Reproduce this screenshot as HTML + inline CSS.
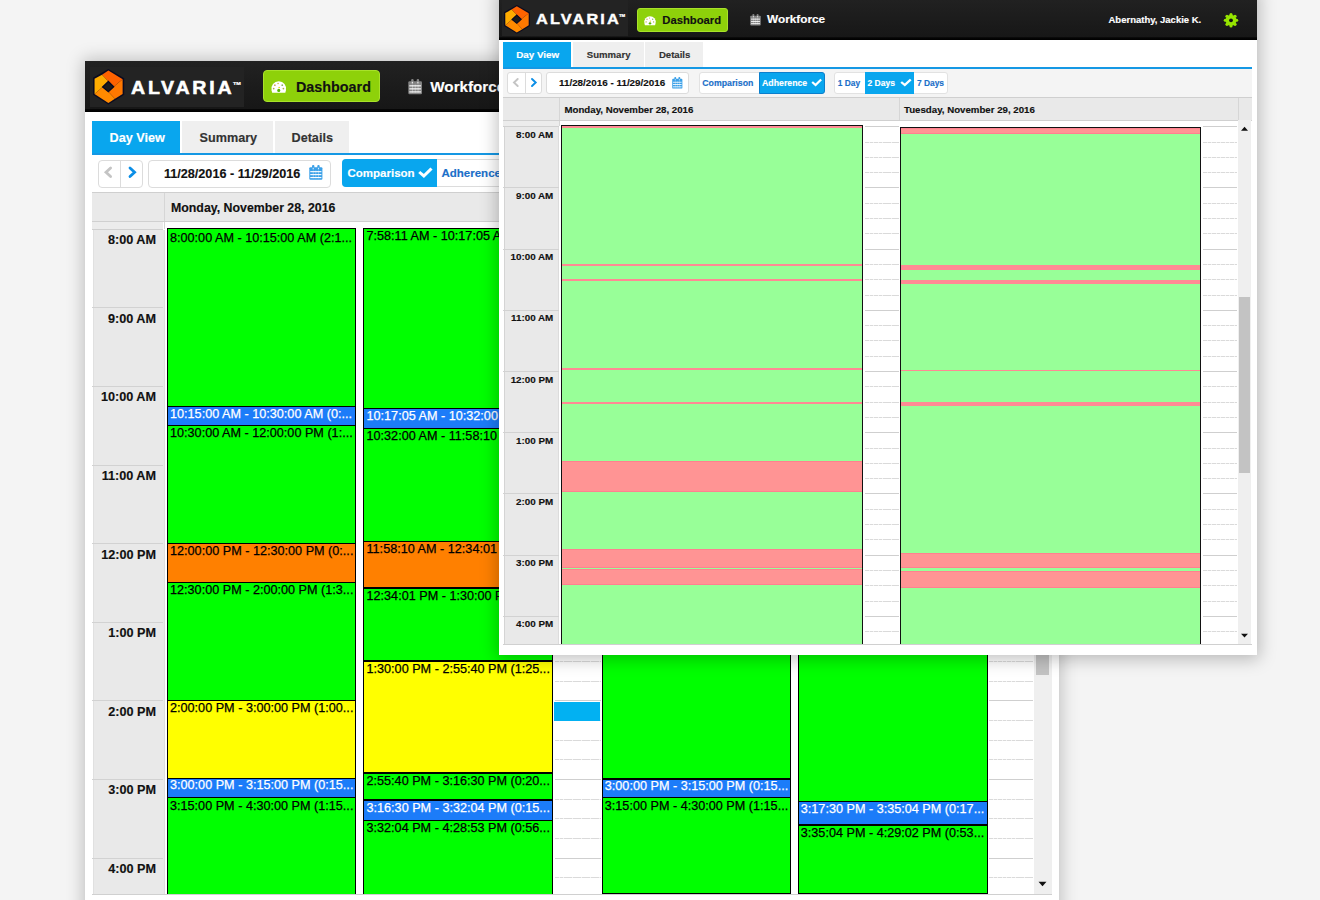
<!DOCTYPE html>
<html><head><meta charset="utf-8"><title>Alvaria Adherence</title>
<style>
html,body{margin:0;padding:0;}
body{width:1320px;height:900px;overflow:hidden;position:relative;background:#f4f4f4;font-family:"Liberation Sans", sans-serif;}
div{position:absolute;box-sizing:border-box;}
.t{white-space:nowrap;-webkit-text-stroke:0.15px currentColor;}
svg{position:absolute;overflow:visible;}
</style></head><body>

<div style="left:85px;top:61px;width:974px;height:900px;background:#fff;box-shadow:0 0 16px 2px rgba(0,0,0,0.22);"></div>
<div style="left:85px;top:61px;width:974px;height:51px;background:linear-gradient(#222 0%,#1b1b1b 55%,#171717 94%,#060606 95%,#000 100%);"></div>
<div style="left:90px;top:66.7px;width:154.4px;height:40px;background:#232323;"></div>
<svg style="left:92.5px;top:69px;" width="31.2px" height="35.6px" viewBox="60 60 710 785" preserveAspectRatio="none">
<polygon points="410,60 770,265 770,630 410,845 60,630 60,255" fill="#0b0b20"/>
<polygon points="265,185 410,95 735,285 530,450 410,335" fill="#ff6200"/>
<polygon points="95,275 265,185 410,335 280,455 95,610" fill="#ffac00"/>
<polygon points="95,610 280,455 410,560 560,718 410,810" fill="#ff8a00"/>
<polygon points="735,285 735,610 560,718 410,560 530,450" fill="#ff7800"/>
<polygon points="410,335 530,450 410,560 280,455" fill="#1c1c1c" stroke="#0b0b20" stroke-width="30"/>
</svg>
<div class="t" style="left:131px;top:79.6px;font-size:17.8px;line-height:17.8px;color:#fff;font-weight:bold;letter-spacing:2.5px;-webkit-text-stroke:0.5px #fff;transform:scaleX(1.1);transform-origin:0 0;">ALVARIA</div>
<div class="t" style="top:81.93px;font-size:4.2px;line-height:4.2px;color:#fff;font-weight:bold;-webkit-text-stroke:0.2px #fff;transform:scaleX(1.3);transform-origin:0 0;left:233.2px;">TM</div>
<div style="left:263.4px;top:70.3px;width:116.8px;height:31.7px;background:#8ed10a;border:1px solid #a8e22a;border-radius:4px;"></div>
<svg style="left:271px;top:80.7px;" width="15.5px" height="11.8px" viewBox="0 0 16 12" preserveAspectRatio="none">
<path d="M1.2,12 L0.6,9.5 A7.6,7.6 0 1 1 15.4,9.5 L14.8,12 Z" fill="#fff"/>
<circle cx="8" cy="9.6" r="1.6" fill="#55b800"/><circle cx="8.4" cy="6.6" r="0.8" fill="#e8d000"/>
<circle cx="4" cy="4.3" r="0.9" fill="#c8a060"/><circle cx="7.3" cy="2.6" r="0.8" fill="#c8b040"/><circle cx="11.6" cy="4.3" r="0.9" fill="#88b060"/>
<circle cx="2.8" cy="7.7" r="0.9" fill="#b0b040"/><circle cx="12.8" cy="7.7" r="0.9" fill="#b0b040"/>
</svg>
<div class="t" style="top:80.1px;font-size:14.35px;line-height:14.35px;color:#111;font-weight:bold;left:296px;">Dashboard</div>
<svg style="left:408px;top:78.7px;" width="14.3px" height="15.2px" viewBox="0 0 14 15" preserveAspectRatio="none">
<rect x="0.3" y="2.2" width="13.4" height="12.8" rx="1.2" fill="#858585"/>
<rect x="3.1" y="0" width="2.4" height="3.6" rx="1.1" fill="#858585"/><rect x="8.5" y="0" width="2.4" height="3.6" rx="1.1" fill="#858585"/>
<rect x="3.7" y="2.8" width="1.2" height="1.6" fill="#fff" opacity="0.8"/><rect x="9.1" y="2.8" width="1.2" height="1.6" fill="#fff" opacity="0.8"/>
<g fill="#fff"><rect x="1.3" y="6.2" width="11.4" height="1.1"/><rect x="1.3" y="9.2" width="11.4" height="1.1"/><rect x="1.3" y="12.2" width="11.4" height="1.1"/></g>
<g fill="#fff" opacity="0.45"><rect x="3.9" y="5.5" width="0.7" height="8"/><rect x="6.7" y="5.5" width="0.7" height="8"/><rect x="9.5" y="5.5" width="0.7" height="8"/></g>
</svg>
<div class="t" style="top:79.37px;font-size:15.2px;line-height:15.2px;color:#fff;font-weight:bold;left:430.3px;">Workforce</div>
<div style="left:92.1px;top:120.7px;width:87.5px;height:32.1px;background:#09a6ee;"></div>
<div style="left:182px;top:120.7px;width:91.1px;height:32.1px;background:#efefef;"></div>
<div style="left:275.2px;top:120.7px;width:74.2px;height:32.1px;background:#efefef;"></div>
<div class="t" style="top:131.58px;font-size:12.65px;line-height:12.65px;color:#fff;font-weight:bold;left:109.5px;">Day View</div>
<div class="t" style="top:131.58px;font-size:12.65px;line-height:12.65px;color:#333;font-weight:bold;left:199.5px;">Summary</div>
<div class="t" style="top:131.58px;font-size:12.65px;line-height:12.65px;color:#333;font-weight:bold;left:291.5px;">Details</div>
<div style="left:92.1px;top:152.8px;width:966.9px;height:2.2px;background:#1598e4;"></div>
<div style="left:97.5px;top:159.5px;width:45.3px;height:28.3px;background:#fff;border:1px solid #dcdcdc;border-radius:4px;"></div>
<div style="left:120.1px;top:160px;width:1px;height:27.3px;background:#dcdcdc;"></div>
<svg style="left:103.3px;top:165.2px;" width="10.6px" height="14.6px"><path d="M7.6,3 L3,7.3 L7.6,11.6" fill="none" stroke="#c4c4c4" stroke-width="2.8" stroke-linecap="round" stroke-linejoin="miter"/></svg>
<svg style="left:126.5px;top:165.2px;" width="10.6px" height="14.6px"><path d="M3,3 L7.6,7.3 L3,11.6" fill="none" stroke="#0b8ee6" stroke-width="2.8" stroke-linecap="round" stroke-linejoin="miter"/></svg>
<div style="left:147.7px;top:159.5px;width:183.6px;height:28.3px;background:#fff;border:1px solid #dcdcdc;border-radius:4px;"></div>
<div class="t" style="top:168.48px;font-size:12.65px;line-height:12.65px;color:#111;font-weight:bold;left:163.9px;">11/28/2016 - 11/29/2016</div>
<svg style="left:309.3px;top:164.8px;" width="13.7px" height="14.8px" viewBox="0 0 14 15" preserveAspectRatio="none">
<rect x="0.3" y="2.2" width="13.4" height="12.8" rx="1.2" fill="#3aa0e8"/>
<rect x="3.1" y="0" width="2.4" height="3.6" rx="1.1" fill="#3aa0e8"/><rect x="8.5" y="0" width="2.4" height="3.6" rx="1.1" fill="#3aa0e8"/>
<rect x="3.7" y="2.8" width="1.2" height="1.6" fill="#fff" opacity="0.8"/><rect x="9.1" y="2.8" width="1.2" height="1.6" fill="#fff" opacity="0.8"/>
<g fill="#fff"><rect x="1.3" y="6.2" width="11.4" height="1.1"/><rect x="1.3" y="9.2" width="11.4" height="1.1"/><rect x="1.3" y="12.2" width="11.4" height="1.1"/></g>
<g fill="#fff" opacity="0.45"><rect x="3.9" y="5.5" width="0.7" height="8"/><rect x="6.7" y="5.5" width="0.7" height="8"/><rect x="9.5" y="5.5" width="0.7" height="8"/></g>
</svg>
<div style="left:342px;top:159.3px;width:258px;height:28.2px;background:#fff;border:1px solid #dcdcdc;border-radius:4px;"></div>
<div style="left:342px;top:159.3px;width:95px;height:28.2px;background:#09a6ee;border-radius:4px 0 0 4px;"></div>
<div class="t" style="top:168.46px;font-size:11.5px;line-height:11.5px;color:#fff;font-weight:bold;left:347.5px;">Comparison</div>
<svg style="left:419.3px;top:168.3px;" width="12.7px" height="9.9px" viewBox="0 0 12 10" preserveAspectRatio="none">
<path d="M1.3,5.0 L4.6,8.0 L10.8,1.6" fill="none" stroke="#fff" stroke-width="2.9" stroke-linecap="square"/>
</svg>
<div class="t" style="top:168.46px;font-size:11.5px;line-height:11.5px;color:#1b6fc9;font-weight:bold;left:441.5px;">Adherence</div>
<div style="left:92.4px;top:192.4px;width:959.6px;height:1px;background:#cfcfcf;"></div>
<div style="left:92.4px;top:193.4px;width:959.6px;height:27.6px;background:#e9e9e9;"></div>
<div style="left:163.5px;top:193.4px;width:1px;height:35.6px;background:#d6d6d6;"></div>
<div class="t" style="top:202.22px;font-size:12.35px;line-height:12.35px;color:#111;font-weight:bold;left:171px;">Monday, November 28, 2016</div>
<div style="left:92.4px;top:221px;width:959.6px;height:1px;background:#d0d0d0;"></div>
<div style="left:92.4px;top:222px;width:71.1px;height:6.5px;background:#ececec;"></div>
<div style="left:92.4px;top:228.5px;width:71.1px;height:1px;background:#d0d0d0;"></div>
<div style="left:93.2px;top:229.5px;width:71.6px;height:664.1px;background:#e9e9e9;border-right:1.4px solid #dedede;border-left:1px solid #e0e0e0;"></div>
<div class="t" style="top:234.18px;font-size:12.65px;line-height:12.65px;color:#111;font-weight:bold;right:1164px;">8:00 AM</div>
<div style="left:92.4px;top:307.3px;width:71.1px;height:1px;background:#d2d2d2;"></div>
<div class="t" style="top:312.78px;font-size:12.65px;line-height:12.65px;color:#111;font-weight:bold;right:1164px;">9:00 AM</div>
<div style="left:92.4px;top:385.9px;width:71.1px;height:1px;background:#d2d2d2;"></div>
<div class="t" style="top:391.38px;font-size:12.65px;line-height:12.65px;color:#111;font-weight:bold;right:1164px;">10:00 AM</div>
<div style="left:92.4px;top:464.5px;width:71.1px;height:1px;background:#d2d2d2;"></div>
<div class="t" style="top:469.98px;font-size:12.65px;line-height:12.65px;color:#111;font-weight:bold;right:1164px;">11:00 AM</div>
<div style="left:92.4px;top:543.1px;width:71.1px;height:1px;background:#d2d2d2;"></div>
<div class="t" style="top:548.58px;font-size:12.65px;line-height:12.65px;color:#111;font-weight:bold;right:1164px;">12:00 PM</div>
<div style="left:92.4px;top:621.7px;width:71.1px;height:1px;background:#d2d2d2;"></div>
<div class="t" style="top:627.18px;font-size:12.65px;line-height:12.65px;color:#111;font-weight:bold;right:1164px;">1:00 PM</div>
<div style="left:92.4px;top:700.3px;width:71.1px;height:1px;background:#d2d2d2;"></div>
<div class="t" style="top:705.78px;font-size:12.65px;line-height:12.65px;color:#111;font-weight:bold;right:1164px;">2:00 PM</div>
<div style="left:92.4px;top:778.9px;width:71.1px;height:1px;background:#d2d2d2;"></div>
<div class="t" style="top:784.38px;font-size:12.65px;line-height:12.65px;color:#111;font-weight:bold;right:1164px;">3:00 PM</div>
<div style="left:92.4px;top:857.5px;width:71.1px;height:1px;background:#d2d2d2;"></div>
<div class="t" style="top:862.98px;font-size:12.65px;line-height:12.65px;color:#111;font-weight:bold;right:1164px;">4:00 PM</div>
<div style="left:553px;top:229.5px;width:48.5px;height:664.1px;background:#fff;"></div>
<div style="left:554.5px;top:248.35px;width:46px;height:1.1px;background-image:repeating-linear-gradient(90deg,#dadada 0 3.5px,#f2f2f2 3.5px 4.5px);"></div>
<div style="left:554.5px;top:268px;width:46px;height:1.1px;background-image:repeating-linear-gradient(90deg,#dadada 0 3.5px,#f2f2f2 3.5px 4.5px);"></div>
<div style="left:554.5px;top:287.65px;width:46px;height:1.1px;background-image:repeating-linear-gradient(90deg,#dadada 0 3.5px,#f2f2f2 3.5px 4.5px);"></div>
<div style="left:554.5px;top:307.3px;width:46px;height:1.1px;background:#cfcfcf;"></div>
<div style="left:554.5px;top:326.95px;width:46px;height:1.1px;background-image:repeating-linear-gradient(90deg,#dadada 0 3.5px,#f2f2f2 3.5px 4.5px);"></div>
<div style="left:554.5px;top:346.6px;width:46px;height:1.1px;background-image:repeating-linear-gradient(90deg,#dadada 0 3.5px,#f2f2f2 3.5px 4.5px);"></div>
<div style="left:554.5px;top:366.25px;width:46px;height:1.1px;background-image:repeating-linear-gradient(90deg,#dadada 0 3.5px,#f2f2f2 3.5px 4.5px);"></div>
<div style="left:554.5px;top:385.9px;width:46px;height:1.1px;background:#cfcfcf;"></div>
<div style="left:554.5px;top:405.55px;width:46px;height:1.1px;background-image:repeating-linear-gradient(90deg,#dadada 0 3.5px,#f2f2f2 3.5px 4.5px);"></div>
<div style="left:554.5px;top:425.2px;width:46px;height:1.1px;background-image:repeating-linear-gradient(90deg,#dadada 0 3.5px,#f2f2f2 3.5px 4.5px);"></div>
<div style="left:554.5px;top:444.85px;width:46px;height:1.1px;background-image:repeating-linear-gradient(90deg,#dadada 0 3.5px,#f2f2f2 3.5px 4.5px);"></div>
<div style="left:554.5px;top:464.5px;width:46px;height:1.1px;background:#cfcfcf;"></div>
<div style="left:554.5px;top:484.15px;width:46px;height:1.1px;background-image:repeating-linear-gradient(90deg,#dadada 0 3.5px,#f2f2f2 3.5px 4.5px);"></div>
<div style="left:554.5px;top:503.8px;width:46px;height:1.1px;background-image:repeating-linear-gradient(90deg,#dadada 0 3.5px,#f2f2f2 3.5px 4.5px);"></div>
<div style="left:554.5px;top:523.45px;width:46px;height:1.1px;background-image:repeating-linear-gradient(90deg,#dadada 0 3.5px,#f2f2f2 3.5px 4.5px);"></div>
<div style="left:554.5px;top:543.1px;width:46px;height:1.1px;background:#cfcfcf;"></div>
<div style="left:554.5px;top:562.75px;width:46px;height:1.1px;background-image:repeating-linear-gradient(90deg,#dadada 0 3.5px,#f2f2f2 3.5px 4.5px);"></div>
<div style="left:554.5px;top:582.4px;width:46px;height:1.1px;background-image:repeating-linear-gradient(90deg,#dadada 0 3.5px,#f2f2f2 3.5px 4.5px);"></div>
<div style="left:554.5px;top:602.05px;width:46px;height:1.1px;background-image:repeating-linear-gradient(90deg,#dadada 0 3.5px,#f2f2f2 3.5px 4.5px);"></div>
<div style="left:554.5px;top:621.7px;width:46px;height:1.1px;background:#cfcfcf;"></div>
<div style="left:554.5px;top:641.35px;width:46px;height:1.1px;background-image:repeating-linear-gradient(90deg,#dadada 0 3.5px,#f2f2f2 3.5px 4.5px);"></div>
<div style="left:554.5px;top:661px;width:46px;height:1.1px;background-image:repeating-linear-gradient(90deg,#dadada 0 3.5px,#f2f2f2 3.5px 4.5px);"></div>
<div style="left:554.5px;top:680.65px;width:46px;height:1.1px;background-image:repeating-linear-gradient(90deg,#dadada 0 3.5px,#f2f2f2 3.5px 4.5px);"></div>
<div style="left:554.5px;top:700.3px;width:46px;height:1.1px;background:#cfcfcf;"></div>
<div style="left:554.5px;top:719.95px;width:46px;height:1.1px;background-image:repeating-linear-gradient(90deg,#dadada 0 3.5px,#f2f2f2 3.5px 4.5px);"></div>
<div style="left:554.5px;top:739.6px;width:46px;height:1.1px;background-image:repeating-linear-gradient(90deg,#dadada 0 3.5px,#f2f2f2 3.5px 4.5px);"></div>
<div style="left:554.5px;top:759.25px;width:46px;height:1.1px;background-image:repeating-linear-gradient(90deg,#dadada 0 3.5px,#f2f2f2 3.5px 4.5px);"></div>
<div style="left:554.5px;top:778.9px;width:46px;height:1.1px;background:#cfcfcf;"></div>
<div style="left:554.5px;top:798.55px;width:46px;height:1.1px;background-image:repeating-linear-gradient(90deg,#dadada 0 3.5px,#f2f2f2 3.5px 4.5px);"></div>
<div style="left:554.5px;top:818.2px;width:46px;height:1.1px;background-image:repeating-linear-gradient(90deg,#dadada 0 3.5px,#f2f2f2 3.5px 4.5px);"></div>
<div style="left:554.5px;top:837.85px;width:46px;height:1.1px;background-image:repeating-linear-gradient(90deg,#dadada 0 3.5px,#f2f2f2 3.5px 4.5px);"></div>
<div style="left:554.5px;top:857.5px;width:46px;height:1.1px;background:#cfcfcf;"></div>
<div style="left:554.5px;top:877.15px;width:46px;height:1.1px;background-image:repeating-linear-gradient(90deg,#dadada 0 3.5px,#f2f2f2 3.5px 4.5px);"></div>
<div style="left:987.5px;top:229.5px;width:46.5px;height:664.1px;background:#fff;"></div>
<div style="left:989px;top:248.35px;width:44px;height:1.1px;background-image:repeating-linear-gradient(90deg,#dadada 0 3.5px,#f2f2f2 3.5px 4.5px);"></div>
<div style="left:989px;top:268px;width:44px;height:1.1px;background-image:repeating-linear-gradient(90deg,#dadada 0 3.5px,#f2f2f2 3.5px 4.5px);"></div>
<div style="left:989px;top:287.65px;width:44px;height:1.1px;background-image:repeating-linear-gradient(90deg,#dadada 0 3.5px,#f2f2f2 3.5px 4.5px);"></div>
<div style="left:989px;top:307.3px;width:44px;height:1.1px;background:#cfcfcf;"></div>
<div style="left:989px;top:326.95px;width:44px;height:1.1px;background-image:repeating-linear-gradient(90deg,#dadada 0 3.5px,#f2f2f2 3.5px 4.5px);"></div>
<div style="left:989px;top:346.6px;width:44px;height:1.1px;background-image:repeating-linear-gradient(90deg,#dadada 0 3.5px,#f2f2f2 3.5px 4.5px);"></div>
<div style="left:989px;top:366.25px;width:44px;height:1.1px;background-image:repeating-linear-gradient(90deg,#dadada 0 3.5px,#f2f2f2 3.5px 4.5px);"></div>
<div style="left:989px;top:385.9px;width:44px;height:1.1px;background:#cfcfcf;"></div>
<div style="left:989px;top:405.55px;width:44px;height:1.1px;background-image:repeating-linear-gradient(90deg,#dadada 0 3.5px,#f2f2f2 3.5px 4.5px);"></div>
<div style="left:989px;top:425.2px;width:44px;height:1.1px;background-image:repeating-linear-gradient(90deg,#dadada 0 3.5px,#f2f2f2 3.5px 4.5px);"></div>
<div style="left:989px;top:444.85px;width:44px;height:1.1px;background-image:repeating-linear-gradient(90deg,#dadada 0 3.5px,#f2f2f2 3.5px 4.5px);"></div>
<div style="left:989px;top:464.5px;width:44px;height:1.1px;background:#cfcfcf;"></div>
<div style="left:989px;top:484.15px;width:44px;height:1.1px;background-image:repeating-linear-gradient(90deg,#dadada 0 3.5px,#f2f2f2 3.5px 4.5px);"></div>
<div style="left:989px;top:503.8px;width:44px;height:1.1px;background-image:repeating-linear-gradient(90deg,#dadada 0 3.5px,#f2f2f2 3.5px 4.5px);"></div>
<div style="left:989px;top:523.45px;width:44px;height:1.1px;background-image:repeating-linear-gradient(90deg,#dadada 0 3.5px,#f2f2f2 3.5px 4.5px);"></div>
<div style="left:989px;top:543.1px;width:44px;height:1.1px;background:#cfcfcf;"></div>
<div style="left:989px;top:562.75px;width:44px;height:1.1px;background-image:repeating-linear-gradient(90deg,#dadada 0 3.5px,#f2f2f2 3.5px 4.5px);"></div>
<div style="left:989px;top:582.4px;width:44px;height:1.1px;background-image:repeating-linear-gradient(90deg,#dadada 0 3.5px,#f2f2f2 3.5px 4.5px);"></div>
<div style="left:989px;top:602.05px;width:44px;height:1.1px;background-image:repeating-linear-gradient(90deg,#dadada 0 3.5px,#f2f2f2 3.5px 4.5px);"></div>
<div style="left:989px;top:621.7px;width:44px;height:1.1px;background:#cfcfcf;"></div>
<div style="left:989px;top:641.35px;width:44px;height:1.1px;background-image:repeating-linear-gradient(90deg,#dadada 0 3.5px,#f2f2f2 3.5px 4.5px);"></div>
<div style="left:989px;top:661px;width:44px;height:1.1px;background-image:repeating-linear-gradient(90deg,#dadada 0 3.5px,#f2f2f2 3.5px 4.5px);"></div>
<div style="left:989px;top:680.65px;width:44px;height:1.1px;background-image:repeating-linear-gradient(90deg,#dadada 0 3.5px,#f2f2f2 3.5px 4.5px);"></div>
<div style="left:989px;top:700.3px;width:44px;height:1.1px;background:#cfcfcf;"></div>
<div style="left:989px;top:719.95px;width:44px;height:1.1px;background-image:repeating-linear-gradient(90deg,#dadada 0 3.5px,#f2f2f2 3.5px 4.5px);"></div>
<div style="left:989px;top:739.6px;width:44px;height:1.1px;background-image:repeating-linear-gradient(90deg,#dadada 0 3.5px,#f2f2f2 3.5px 4.5px);"></div>
<div style="left:989px;top:759.25px;width:44px;height:1.1px;background-image:repeating-linear-gradient(90deg,#dadada 0 3.5px,#f2f2f2 3.5px 4.5px);"></div>
<div style="left:989px;top:778.9px;width:44px;height:1.1px;background:#cfcfcf;"></div>
<div style="left:989px;top:798.55px;width:44px;height:1.1px;background-image:repeating-linear-gradient(90deg,#dadada 0 3.5px,#f2f2f2 3.5px 4.5px);"></div>
<div style="left:989px;top:818.2px;width:44px;height:1.1px;background-image:repeating-linear-gradient(90deg,#dadada 0 3.5px,#f2f2f2 3.5px 4.5px);"></div>
<div style="left:989px;top:837.85px;width:44px;height:1.1px;background-image:repeating-linear-gradient(90deg,#dadada 0 3.5px,#f2f2f2 3.5px 4.5px);"></div>
<div style="left:989px;top:857.5px;width:44px;height:1.1px;background:#cfcfcf;"></div>
<div style="left:989px;top:877.15px;width:44px;height:1.1px;background-image:repeating-linear-gradient(90deg,#dadada 0 3.5px,#f2f2f2 3.5px 4.5px);"></div>
<div style="left:554px;top:701.6px;width:45.6px;height:19.8px;background:#02b1f2;"></div>
<div style="left:356.5px;top:222px;width:6.7px;height:671.6px;background:#fff;"></div>
<div style="left:791px;top:222px;width:6.5px;height:671.6px;background:#fff;"></div>
<div style="left:166.7px;top:228px;width:189.8px;height:179px;background:#00ff00;border:1.3px solid #000;overflow:hidden;"></div>
<div class="t" style="top:231.68px;font-size:12.65px;line-height:12.65px;color:#000;font-weight:normal;-webkit-text-stroke:0.25px #000;left:170px;">8:00:00 AM - 10:15:00 AM (2:1...</div>
<div style="left:166.7px;top:406px;width:189.8px;height:19.5px;background:#1c7cf9;border:1.3px solid #000;overflow:hidden;"></div>
<div class="t" style="top:408.18px;font-size:12.65px;line-height:12.65px;color:#fff;font-weight:normal;-webkit-text-stroke:0.25px #fff;left:170px;">10:15:00 AM - 10:30:00 AM (0:...</div>
<div style="left:166.7px;top:424.5px;width:189.8px;height:119.2px;background:#00ff00;border:1.3px solid #000;overflow:hidden;"></div>
<div class="t" style="top:427.38px;font-size:12.65px;line-height:12.65px;color:#000;font-weight:normal;-webkit-text-stroke:0.25px #000;left:170px;">10:30:00 AM - 12:00:00 PM (1:...</div>
<div style="left:166.7px;top:543px;width:189.8px;height:39.8px;background:#ff8000;border:1.3px solid #000;overflow:hidden;"></div>
<div class="t" style="top:544.68px;font-size:12.65px;line-height:12.65px;color:#000;font-weight:normal;-webkit-text-stroke:0.25px #000;left:170px;">12:00:00 PM - 12:30:00 PM (0:...</div>
<div style="left:166.7px;top:582px;width:189.8px;height:119px;background:#00ff00;border:1.3px solid #000;overflow:hidden;"></div>
<div class="t" style="top:584.08px;font-size:12.65px;line-height:12.65px;color:#000;font-weight:normal;-webkit-text-stroke:0.25px #000;left:170px;">12:30:00 PM - 2:00:00 PM (1:3...</div>
<div style="left:166.7px;top:700.3px;width:189.8px;height:78.7px;background:#ffff00;border:1.3px solid #000;overflow:hidden;"></div>
<div class="t" style="top:701.78px;font-size:12.65px;line-height:12.65px;color:#000;font-weight:normal;-webkit-text-stroke:0.25px #000;left:170px;">2:00:00 PM - 3:00:00 PM (1:00...</div>
<div style="left:166.7px;top:778px;width:189.8px;height:19.8px;background:#1c7cf9;border:1.3px solid #000;overflow:hidden;"></div>
<div class="t" style="top:779.38px;font-size:12.65px;line-height:12.65px;color:#fff;font-weight:normal;-webkit-text-stroke:0.25px #fff;left:170px;">3:00:00 PM - 3:15:00 PM (0:15...</div>
<div style="left:166.7px;top:797px;width:189.8px;height:97.5px;background:#00ff00;border:1.3px solid #000;overflow:hidden;"></div>
<div class="t" style="top:799.78px;font-size:12.65px;line-height:12.65px;color:#000;font-weight:normal;-webkit-text-stroke:0.25px #000;left:170px;">3:15:00 PM - 4:30:00 PM (1:15...</div>
<div style="left:363.2px;top:227.5px;width:189.8px;height:181.2px;background:#00ff00;border:1.3px solid #000;overflow:hidden;"></div>
<div class="t" style="top:229.58px;font-size:12.65px;line-height:12.65px;color:#000;font-weight:normal;-webkit-text-stroke:0.25px #000;left:366.5px;">7:58:11 AM - 10:17:05 AM (2:18...</div>
<div style="left:363.2px;top:408px;width:189.8px;height:20.7px;background:#1c7cf9;border:1.3px solid #000;overflow:hidden;"></div>
<div class="t" style="top:410.38px;font-size:12.65px;line-height:12.65px;color:#fff;font-weight:normal;-webkit-text-stroke:0.25px #fff;left:366.5px;">10:17:05 AM - 10:32:00 AM (0:...</div>
<div style="left:363.2px;top:428px;width:189.8px;height:114px;background:#00ff00;border:1.3px solid #000;overflow:hidden;"></div>
<div class="t" style="top:429.58px;font-size:12.65px;line-height:12.65px;color:#000;font-weight:normal;-webkit-text-stroke:0.25px #000;left:366.5px;">10:32:00 AM - 11:58:10 AM (1:...</div>
<div style="left:363.2px;top:541.4px;width:189.8px;height:46.6px;background:#ff8000;border:1.3px solid #000;overflow:hidden;"></div>
<div class="t" style="top:542.58px;font-size:12.65px;line-height:12.65px;color:#000;font-weight:normal;-webkit-text-stroke:0.25px #000;left:366.5px;">11:58:10 AM - 12:34:01 PM (0:...</div>
<div style="left:363.2px;top:587.5px;width:189.8px;height:73.5px;background:#00ff00;border:1.3px solid #000;overflow:hidden;"></div>
<div class="t" style="top:589.68px;font-size:12.65px;line-height:12.65px;color:#000;font-weight:normal;-webkit-text-stroke:0.25px #000;left:366.5px;">12:34:01 PM - 1:30:00 PM (0:5...</div>
<div style="left:363.2px;top:660.6px;width:189.8px;height:112.4px;background:#ffff00;border:1.3px solid #000;overflow:hidden;"></div>
<div class="t" style="top:663.48px;font-size:12.65px;line-height:12.65px;color:#000;font-weight:normal;-webkit-text-stroke:0.25px #000;left:366.5px;">1:30:00 PM - 2:55:40 PM (1:25...</div>
<div style="left:363.2px;top:772.5px;width:189.8px;height:27.8px;background:#00ff00;border:1.3px solid #000;overflow:hidden;"></div>
<div class="t" style="top:774.68px;font-size:12.65px;line-height:12.65px;color:#000;font-weight:normal;-webkit-text-stroke:0.25px #000;left:366.5px;">2:55:40 PM - 3:16:30 PM (0:20...</div>
<div style="left:363.2px;top:799.6px;width:189.8px;height:21px;background:#1c7cf9;border:1.3px solid #000;overflow:hidden;"></div>
<div class="t" style="top:801.58px;font-size:12.65px;line-height:12.65px;color:#fff;font-weight:normal;-webkit-text-stroke:0.25px #fff;left:366.5px;">3:16:30 PM - 3:32:04 PM (0:15...</div>
<div style="left:363.2px;top:820px;width:189.8px;height:74.5px;background:#00ff00;border:1.3px solid #000;overflow:hidden;"></div>
<div class="t" style="top:822.38px;font-size:12.65px;line-height:12.65px;color:#000;font-weight:normal;-webkit-text-stroke:0.25px #000;left:366.5px;">3:32:04 PM - 4:28:53 PM (0:56...</div>
<div style="left:601.5px;top:600px;width:189.5px;height:179.3px;background:#00ff00;border:1.3px solid #000;overflow:hidden;"></div>
<div style="left:601.5px;top:778.6px;width:189.5px;height:19.4px;background:#1c7cf9;border:1.3px solid #000;overflow:hidden;"></div>
<div class="t" style="top:779.78px;font-size:12.65px;line-height:12.65px;color:#fff;font-weight:normal;-webkit-text-stroke:0.25px #fff;left:604.8px;">3:00:00 PM - 3:15:00 PM (0:15...</div>
<div style="left:601.5px;top:797.3px;width:189.5px;height:97.2px;background:#00ff00;border:1.3px solid #000;overflow:hidden;"></div>
<div class="t" style="top:799.78px;font-size:12.65px;line-height:12.65px;color:#000;font-weight:normal;-webkit-text-stroke:0.25px #000;left:604.8px;">3:15:00 PM - 4:30:00 PM (1:15...</div>
<div style="left:797.5px;top:600px;width:190px;height:202px;background:#00ff00;border:1.3px solid #000;overflow:hidden;"></div>
<div style="left:797.5px;top:801.3px;width:190px;height:24px;background:#1c7cf9;border:1.3px solid #000;overflow:hidden;"></div>
<div class="t" style="top:803.28px;font-size:12.65px;line-height:12.65px;color:#fff;font-weight:normal;-webkit-text-stroke:0.25px #fff;left:800.8px;">3:17:30 PM - 3:35:04 PM (0:17...</div>
<div style="left:797.5px;top:824.6px;width:190px;height:69.9px;background:#00ff00;border:1.3px solid #000;overflow:hidden;"></div>
<div class="t" style="top:826.58px;font-size:12.65px;line-height:12.65px;color:#000;font-weight:normal;-webkit-text-stroke:0.25px #000;left:800.8px;">3:35:04 PM - 4:29:02 PM (0:53...</div>
<div style="left:92.4px;top:893.6px;width:959.6px;height:1px;background:#d0d0d0;"></div>
<div style="left:1034px;top:193.4px;width:17.7px;height:700.2px;background:#efefef;"></div>
<div style="left:1035.8px;top:560px;width:13.2px;height:114.7px;background:#c3c3c3;"></div>
<svg style="left:0;top:0;" width="1320" height="900"><path d="M1038.5,881.8 L1042.5,886.2 L1046.5,881.8 Z" fill="#111"/></svg>
<div style="left:499px;top:-10px;width:758px;height:665px;background:#fff;box-shadow:0 2px 16px 2px rgba(0,0,0,0.25);"></div>
<div style="left:499px;top:0px;width:758px;height:40px;background:linear-gradient(#212121 0%,#1b1b1b 55%,#171717 93%,#060606 94%,#000 100%);"></div>
<div style="left:501.6px;top:0px;width:126.2px;height:36px;background:#232323;"></div>
<svg style="left:504.2px;top:5.2px;" width="26px" height="28.8px" viewBox="60 60 710 785" preserveAspectRatio="none">
<polygon points="410,60 770,265 770,630 410,845 60,630 60,255" fill="#0b0b20"/>
<polygon points="265,185 410,95 735,285 530,450 410,335" fill="#ff6200"/>
<polygon points="95,275 265,185 410,335 280,455 95,610" fill="#ffac00"/>
<polygon points="95,610 280,455 410,560 560,718 410,810" fill="#ff8a00"/>
<polygon points="735,285 735,610 560,718 410,560 530,450" fill="#ff7800"/>
<polygon points="410,335 530,450 410,560 280,455" fill="#1c1c1c" stroke="#0b0b20" stroke-width="30"/>
</svg>
<div class="t" style="left:535.6px;top:11.9px;font-size:14.8px;line-height:14.8px;color:#fff;font-weight:bold;letter-spacing:1.95px;-webkit-text-stroke:0.4px #fff;transform:scaleX(1.1);transform-origin:0 0;">ALVARIA</div>
<div class="t" style="top:14.67px;font-size:3.3px;line-height:3.3px;color:#fff;font-weight:bold;-webkit-text-stroke:0.2px #fff;transform:scaleX(1.3);transform-origin:0 0;left:618.9px;">TM</div>
<div style="left:637.3px;top:7.6px;width:90.7px;height:24.3px;background:#8ed10a;border:1px solid #a8e22a;border-radius:3px;"></div>
<svg style="left:643.5px;top:15.5px;" width="12px" height="9.2px" viewBox="0 0 16 12" preserveAspectRatio="none">
<path d="M1.2,12 L0.6,9.5 A7.6,7.6 0 1 1 15.4,9.5 L14.8,12 Z" fill="#fff"/>
<circle cx="8" cy="9.6" r="1.6" fill="#55b800"/><circle cx="8.4" cy="6.6" r="0.8" fill="#e8d000"/>
<circle cx="4" cy="4.3" r="0.9" fill="#c8a060"/><circle cx="7.3" cy="2.6" r="0.8" fill="#c8b040"/><circle cx="11.6" cy="4.3" r="0.9" fill="#88b060"/>
<circle cx="2.8" cy="7.7" r="0.9" fill="#b0b040"/><circle cx="12.8" cy="7.7" r="0.9" fill="#b0b040"/>
</svg>
<div class="t" style="top:15.1px;font-size:11.25px;line-height:11.25px;color:#111;font-weight:bold;left:662.3px;">Dashboard</div>
<svg style="left:749.8px;top:14.1px;" width="11px" height="11.4px" viewBox="0 0 14 15" preserveAspectRatio="none">
<rect x="0.3" y="2.2" width="13.4" height="12.8" rx="1.2" fill="#858585"/>
<rect x="3.1" y="0" width="2.4" height="3.6" rx="1.1" fill="#858585"/><rect x="8.5" y="0" width="2.4" height="3.6" rx="1.1" fill="#858585"/>
<rect x="3.7" y="2.8" width="1.2" height="1.6" fill="#fff" opacity="0.8"/><rect x="9.1" y="2.8" width="1.2" height="1.6" fill="#fff" opacity="0.8"/>
<g fill="#fff"><rect x="1.3" y="6.2" width="11.4" height="1.1"/><rect x="1.3" y="9.2" width="11.4" height="1.1"/><rect x="1.3" y="12.2" width="11.4" height="1.1"/></g>
<g fill="#fff" opacity="0.45"><rect x="3.9" y="5.5" width="0.7" height="8"/><rect x="6.7" y="5.5" width="0.7" height="8"/><rect x="9.5" y="5.5" width="0.7" height="8"/></g>
</svg>
<div class="t" style="top:13.81px;font-size:11.8px;line-height:11.8px;color:#fff;font-weight:bold;left:767px;">Workforce</div>
<div class="t" style="top:15.18px;font-size:9.5px;line-height:9.5px;color:#fff;font-weight:bold;left:1108.5px;">Abernathy, Jackie K.</div>
<svg style="left:0;top:0;" width="1320" height="60"><circle cx="1231" cy="20.3" r="5.5" fill="#96e400"/><circle cx="1236.70" cy="20.30" r="1.55" fill="#96e400"/><circle cx="1235.03" cy="24.33" r="1.55" fill="#96e400"/><circle cx="1231.00" cy="26.00" r="1.55" fill="#96e400"/><circle cx="1226.97" cy="24.33" r="1.55" fill="#96e400"/><circle cx="1225.30" cy="20.30" r="1.55" fill="#96e400"/><circle cx="1226.97" cy="16.27" r="1.55" fill="#96e400"/><circle cx="1231.00" cy="14.60" r="1.55" fill="#96e400"/><circle cx="1235.03" cy="16.27" r="1.55" fill="#96e400"/><circle cx="1231" cy="20.3" r="1.9" fill="#111"/></svg>
<div style="left:503px;top:42px;width:68.4px;height:25px;background:#09a6ee;"></div>
<div style="left:573px;top:42px;width:70.8px;height:25px;background:#efefef;"></div>
<div style="left:645.4px;top:42px;width:58px;height:25px;background:#efefef;"></div>
<div class="t" style="top:49.82px;font-size:9.85px;line-height:9.85px;color:#fff;font-weight:bold;left:516.2px;">Day View</div>
<div class="t" style="top:49.86px;font-size:9.6px;line-height:9.6px;color:#333;font-weight:bold;left:586.8px;">Summary</div>
<div class="t" style="top:49.86px;font-size:9.6px;line-height:9.6px;color:#333;font-weight:bold;left:658.9px;">Details</div>
<div style="left:503px;top:67px;width:749px;height:2px;background:#1598e4;"></div>
<div style="left:503px;top:69px;width:749px;height:28.5px;background:#f4f4f4;"></div>
<div style="left:507.3px;top:72.3px;width:35px;height:21.3px;background:#fff;border:1px solid #dcdcdc;border-radius:3px;"></div>
<div style="left:524.8px;top:72.8px;width:1px;height:20.3px;background:#dcdcdc;"></div>
<svg style="left:511.05px;top:76.1px;" width="9.7px" height="13px"><path d="M6.7,3 L3,6.5 L6.7,10.0" fill="none" stroke="#c4c4c4" stroke-width="1.9" stroke-linecap="round" stroke-linejoin="miter"/></svg>
<svg style="left:529.15px;top:76.1px;" width="9.7px" height="13px"><path d="M3,3 L6.7,6.5 L3,10.0" fill="none" stroke="#0b8ee6" stroke-width="1.9" stroke-linecap="round" stroke-linejoin="miter"/></svg>
<div style="left:545.5px;top:72.3px;width:143.9px;height:21.3px;background:#fff;border:1px solid #dcdcdc;border-radius:3px;"></div>
<div class="t" style="top:78.42px;font-size:9.85px;line-height:9.85px;color:#111;font-weight:bold;left:559px;">11/28/2016 - 11/29/2016</div>
<svg style="left:672.4px;top:76.6px;" width="10.6px" height="11.6px" viewBox="0 0 14 15" preserveAspectRatio="none">
<rect x="0.3" y="2.2" width="13.4" height="12.8" rx="1.2" fill="#3aa0e8"/>
<rect x="3.1" y="0" width="2.4" height="3.6" rx="1.1" fill="#3aa0e8"/><rect x="8.5" y="0" width="2.4" height="3.6" rx="1.1" fill="#3aa0e8"/>
<rect x="3.7" y="2.8" width="1.2" height="1.6" fill="#fff" opacity="0.8"/><rect x="9.1" y="2.8" width="1.2" height="1.6" fill="#fff" opacity="0.8"/>
<g fill="#fff"><rect x="1.3" y="6.2" width="11.4" height="1.1"/><rect x="1.3" y="9.2" width="11.4" height="1.1"/><rect x="1.3" y="12.2" width="11.4" height="1.1"/></g>
<g fill="#fff" opacity="0.45"><rect x="3.9" y="5.5" width="0.7" height="8"/><rect x="6.7" y="5.5" width="0.7" height="8"/><rect x="9.5" y="5.5" width="0.7" height="8"/></g>
</svg>
<div style="left:698.6px;top:72.1px;width:126.4px;height:21.5px;background:#fff;border:1px solid #e2e2e2;border-radius:3px;"></div>
<div class="t" style="top:78.8px;font-size:8.75px;line-height:8.75px;color:#1b6fc9;font-weight:bold;left:702.3px;">Comparison</div>
<div style="left:758.5px;top:72.1px;width:66.5px;height:21.5px;background:#09a6ee;border:1px solid #0c7fcc;border-radius:0 3px 3px 0;"></div>
<div class="t" style="top:78.8px;font-size:8.75px;line-height:8.75px;color:#fff;font-weight:bold;left:762px;">Adherence</div>
<svg style="left:812.3px;top:79px;" width="9.3px" height="7.6px" viewBox="0 0 12 10" preserveAspectRatio="none">
<path d="M1.3,5.0 L4.6,8.0 L10.8,1.6" fill="none" stroke="#fff" stroke-width="2.9" stroke-linecap="square"/>
</svg>
<div style="left:834.2px;top:72.1px;width:113.9px;height:21.5px;background:#fff;border:1px solid #e2e2e2;border-radius:3px;"></div>
<div class="t" style="top:78.86px;font-size:8.4px;line-height:8.4px;color:#1b6fc9;font-weight:bold;left:837.7px;">1 Day</div>
<div style="left:864.9px;top:72.1px;width:48.7px;height:21.5px;background:#09a6ee;"></div>
<div class="t" style="top:78.84px;font-size:8.5px;line-height:8.5px;color:#fff;font-weight:bold;left:867.5px;">2 Days</div>
<svg style="left:900.7px;top:79px;" width="9.9px" height="7.6px" viewBox="0 0 12 10" preserveAspectRatio="none">
<path d="M1.3,5.0 L4.6,8.0 L10.8,1.6" fill="none" stroke="#fff" stroke-width="2.9" stroke-linecap="square"/>
</svg>
<div class="t" style="top:78.86px;font-size:8.4px;line-height:8.4px;color:#1b6fc9;font-weight:bold;left:917px;">7 Days</div>
<div style="left:503.4px;top:97.2px;width:748.6px;height:1px;background:#cfcfcf;"></div>
<div style="left:503.4px;top:98.2px;width:748.6px;height:21.8px;background:#e9e9e9;"></div>
<div style="left:558.7px;top:98.2px;width:1px;height:28.3px;background:#d6d6d6;"></div>
<div style="left:898.6px;top:98.2px;width:1px;height:28.3px;background:#d6d6d6;"></div>
<div style="left:1238.4px;top:98.2px;width:1px;height:21.8px;background:#d6d6d6;"></div>
<div class="t" style="top:104.65px;font-size:9.68px;line-height:9.68px;color:#111;font-weight:bold;left:564.5px;">Monday, November 28, 2016</div>
<div class="t" style="top:104.65px;font-size:9.68px;line-height:9.68px;color:#111;font-weight:bold;left:904px;">Tuesday, November 29, 2016</div>
<div style="left:503.4px;top:120px;width:748.6px;height:1px;background:#d0d0d0;"></div>
<div style="left:503.4px;top:121px;width:55.3px;height:5px;background:#ececec;"></div>
<div style="left:503.4px;top:126px;width:55.3px;height:1px;background:#d0d0d0;"></div>
<div style="left:503.5px;top:127px;width:55.8px;height:517px;background:#e9e9e9;border-right:1px solid #dcdcdc;border-left:1.2px solid #d4d4d4;"></div>
<div class="t" style="top:129.72px;font-size:9.85px;line-height:9.85px;color:#111;font-weight:bold;right:766.7px;">8:00 AM</div>
<div style="left:503.4px;top:187.4px;width:55.3px;height:1px;background:#d2d2d2;"></div>
<div class="t" style="top:190.92px;font-size:9.85px;line-height:9.85px;color:#111;font-weight:bold;right:766.7px;">9:00 AM</div>
<div style="left:503.4px;top:248.6px;width:55.3px;height:1px;background:#d2d2d2;"></div>
<div class="t" style="top:252.12px;font-size:9.85px;line-height:9.85px;color:#111;font-weight:bold;right:766.7px;">10:00 AM</div>
<div style="left:503.4px;top:309.8px;width:55.3px;height:1px;background:#d2d2d2;"></div>
<div class="t" style="top:313.32px;font-size:9.85px;line-height:9.85px;color:#111;font-weight:bold;right:766.7px;">11:00 AM</div>
<div style="left:503.4px;top:371px;width:55.3px;height:1px;background:#d2d2d2;"></div>
<div class="t" style="top:374.52px;font-size:9.85px;line-height:9.85px;color:#111;font-weight:bold;right:766.7px;">12:00 PM</div>
<div style="left:503.4px;top:432.2px;width:55.3px;height:1px;background:#d2d2d2;"></div>
<div class="t" style="top:435.72px;font-size:9.85px;line-height:9.85px;color:#111;font-weight:bold;right:766.7px;">1:00 PM</div>
<div style="left:503.4px;top:493.4px;width:55.3px;height:1px;background:#d2d2d2;"></div>
<div class="t" style="top:496.92px;font-size:9.85px;line-height:9.85px;color:#111;font-weight:bold;right:766.7px;">2:00 PM</div>
<div style="left:503.4px;top:554.6px;width:55.3px;height:1px;background:#d2d2d2;"></div>
<div class="t" style="top:558.12px;font-size:9.85px;line-height:9.85px;color:#111;font-weight:bold;right:766.7px;">3:00 PM</div>
<div style="left:503.4px;top:615.8px;width:55.3px;height:1px;background:#d2d2d2;"></div>
<div class="t" style="top:619.32px;font-size:9.85px;line-height:9.85px;color:#111;font-weight:bold;right:766.7px;">4:00 PM</div>
<div style="left:863px;top:121px;width:37.3px;height:522.5px;background:#fff;"></div>
<div style="left:864.5px;top:126.2px;width:34.8px;height:1.1px;background:#cfcfcf;"></div>
<div style="left:864.5px;top:141.5px;width:34.8px;height:1.1px;background-image:repeating-linear-gradient(90deg,#dadada 0 3.5px,#f2f2f2 3.5px 4.5px);"></div>
<div style="left:864.5px;top:156.8px;width:34.8px;height:1.1px;background-image:repeating-linear-gradient(90deg,#dadada 0 3.5px,#f2f2f2 3.5px 4.5px);"></div>
<div style="left:864.5px;top:172.1px;width:34.8px;height:1.1px;background-image:repeating-linear-gradient(90deg,#dadada 0 3.5px,#f2f2f2 3.5px 4.5px);"></div>
<div style="left:864.5px;top:187.4px;width:34.8px;height:1.1px;background:#cfcfcf;"></div>
<div style="left:864.5px;top:202.7px;width:34.8px;height:1.1px;background-image:repeating-linear-gradient(90deg,#dadada 0 3.5px,#f2f2f2 3.5px 4.5px);"></div>
<div style="left:864.5px;top:218px;width:34.8px;height:1.1px;background-image:repeating-linear-gradient(90deg,#dadada 0 3.5px,#f2f2f2 3.5px 4.5px);"></div>
<div style="left:864.5px;top:233.3px;width:34.8px;height:1.1px;background-image:repeating-linear-gradient(90deg,#dadada 0 3.5px,#f2f2f2 3.5px 4.5px);"></div>
<div style="left:864.5px;top:248.6px;width:34.8px;height:1.1px;background:#cfcfcf;"></div>
<div style="left:864.5px;top:263.9px;width:34.8px;height:1.1px;background-image:repeating-linear-gradient(90deg,#dadada 0 3.5px,#f2f2f2 3.5px 4.5px);"></div>
<div style="left:864.5px;top:279.2px;width:34.8px;height:1.1px;background-image:repeating-linear-gradient(90deg,#dadada 0 3.5px,#f2f2f2 3.5px 4.5px);"></div>
<div style="left:864.5px;top:294.5px;width:34.8px;height:1.1px;background-image:repeating-linear-gradient(90deg,#dadada 0 3.5px,#f2f2f2 3.5px 4.5px);"></div>
<div style="left:864.5px;top:309.8px;width:34.8px;height:1.1px;background:#cfcfcf;"></div>
<div style="left:864.5px;top:325.1px;width:34.8px;height:1.1px;background-image:repeating-linear-gradient(90deg,#dadada 0 3.5px,#f2f2f2 3.5px 4.5px);"></div>
<div style="left:864.5px;top:340.4px;width:34.8px;height:1.1px;background-image:repeating-linear-gradient(90deg,#dadada 0 3.5px,#f2f2f2 3.5px 4.5px);"></div>
<div style="left:864.5px;top:355.7px;width:34.8px;height:1.1px;background-image:repeating-linear-gradient(90deg,#dadada 0 3.5px,#f2f2f2 3.5px 4.5px);"></div>
<div style="left:864.5px;top:371px;width:34.8px;height:1.1px;background:#cfcfcf;"></div>
<div style="left:864.5px;top:386.3px;width:34.8px;height:1.1px;background-image:repeating-linear-gradient(90deg,#dadada 0 3.5px,#f2f2f2 3.5px 4.5px);"></div>
<div style="left:864.5px;top:401.6px;width:34.8px;height:1.1px;background-image:repeating-linear-gradient(90deg,#dadada 0 3.5px,#f2f2f2 3.5px 4.5px);"></div>
<div style="left:864.5px;top:416.9px;width:34.8px;height:1.1px;background-image:repeating-linear-gradient(90deg,#dadada 0 3.5px,#f2f2f2 3.5px 4.5px);"></div>
<div style="left:864.5px;top:432.2px;width:34.8px;height:1.1px;background:#cfcfcf;"></div>
<div style="left:864.5px;top:447.5px;width:34.8px;height:1.1px;background-image:repeating-linear-gradient(90deg,#dadada 0 3.5px,#f2f2f2 3.5px 4.5px);"></div>
<div style="left:864.5px;top:462.8px;width:34.8px;height:1.1px;background-image:repeating-linear-gradient(90deg,#dadada 0 3.5px,#f2f2f2 3.5px 4.5px);"></div>
<div style="left:864.5px;top:478.1px;width:34.8px;height:1.1px;background-image:repeating-linear-gradient(90deg,#dadada 0 3.5px,#f2f2f2 3.5px 4.5px);"></div>
<div style="left:864.5px;top:493.4px;width:34.8px;height:1.1px;background:#cfcfcf;"></div>
<div style="left:864.5px;top:508.7px;width:34.8px;height:1.1px;background-image:repeating-linear-gradient(90deg,#dadada 0 3.5px,#f2f2f2 3.5px 4.5px);"></div>
<div style="left:864.5px;top:524px;width:34.8px;height:1.1px;background-image:repeating-linear-gradient(90deg,#dadada 0 3.5px,#f2f2f2 3.5px 4.5px);"></div>
<div style="left:864.5px;top:539.3px;width:34.8px;height:1.1px;background-image:repeating-linear-gradient(90deg,#dadada 0 3.5px,#f2f2f2 3.5px 4.5px);"></div>
<div style="left:864.5px;top:554.6px;width:34.8px;height:1.1px;background:#cfcfcf;"></div>
<div style="left:864.5px;top:569.9px;width:34.8px;height:1.1px;background-image:repeating-linear-gradient(90deg,#dadada 0 3.5px,#f2f2f2 3.5px 4.5px);"></div>
<div style="left:864.5px;top:585.2px;width:34.8px;height:1.1px;background-image:repeating-linear-gradient(90deg,#dadada 0 3.5px,#f2f2f2 3.5px 4.5px);"></div>
<div style="left:864.5px;top:600.5px;width:34.8px;height:1.1px;background-image:repeating-linear-gradient(90deg,#dadada 0 3.5px,#f2f2f2 3.5px 4.5px);"></div>
<div style="left:864.5px;top:615.8px;width:34.8px;height:1.1px;background:#cfcfcf;"></div>
<div style="left:864.5px;top:631.1px;width:34.8px;height:1.1px;background-image:repeating-linear-gradient(90deg,#dadada 0 3.5px,#f2f2f2 3.5px 4.5px);"></div>
<div style="left:1201.4px;top:121px;width:37px;height:522.5px;background:#fff;"></div>
<div style="left:1202.9px;top:126.2px;width:34.5px;height:1.1px;background:#cfcfcf;"></div>
<div style="left:1202.9px;top:141.5px;width:34.5px;height:1.1px;background-image:repeating-linear-gradient(90deg,#dadada 0 3.5px,#f2f2f2 3.5px 4.5px);"></div>
<div style="left:1202.9px;top:156.8px;width:34.5px;height:1.1px;background-image:repeating-linear-gradient(90deg,#dadada 0 3.5px,#f2f2f2 3.5px 4.5px);"></div>
<div style="left:1202.9px;top:172.1px;width:34.5px;height:1.1px;background-image:repeating-linear-gradient(90deg,#dadada 0 3.5px,#f2f2f2 3.5px 4.5px);"></div>
<div style="left:1202.9px;top:187.4px;width:34.5px;height:1.1px;background:#cfcfcf;"></div>
<div style="left:1202.9px;top:202.7px;width:34.5px;height:1.1px;background-image:repeating-linear-gradient(90deg,#dadada 0 3.5px,#f2f2f2 3.5px 4.5px);"></div>
<div style="left:1202.9px;top:218px;width:34.5px;height:1.1px;background-image:repeating-linear-gradient(90deg,#dadada 0 3.5px,#f2f2f2 3.5px 4.5px);"></div>
<div style="left:1202.9px;top:233.3px;width:34.5px;height:1.1px;background-image:repeating-linear-gradient(90deg,#dadada 0 3.5px,#f2f2f2 3.5px 4.5px);"></div>
<div style="left:1202.9px;top:248.6px;width:34.5px;height:1.1px;background:#cfcfcf;"></div>
<div style="left:1202.9px;top:263.9px;width:34.5px;height:1.1px;background-image:repeating-linear-gradient(90deg,#dadada 0 3.5px,#f2f2f2 3.5px 4.5px);"></div>
<div style="left:1202.9px;top:279.2px;width:34.5px;height:1.1px;background-image:repeating-linear-gradient(90deg,#dadada 0 3.5px,#f2f2f2 3.5px 4.5px);"></div>
<div style="left:1202.9px;top:294.5px;width:34.5px;height:1.1px;background-image:repeating-linear-gradient(90deg,#dadada 0 3.5px,#f2f2f2 3.5px 4.5px);"></div>
<div style="left:1202.9px;top:309.8px;width:34.5px;height:1.1px;background:#cfcfcf;"></div>
<div style="left:1202.9px;top:325.1px;width:34.5px;height:1.1px;background-image:repeating-linear-gradient(90deg,#dadada 0 3.5px,#f2f2f2 3.5px 4.5px);"></div>
<div style="left:1202.9px;top:340.4px;width:34.5px;height:1.1px;background-image:repeating-linear-gradient(90deg,#dadada 0 3.5px,#f2f2f2 3.5px 4.5px);"></div>
<div style="left:1202.9px;top:355.7px;width:34.5px;height:1.1px;background-image:repeating-linear-gradient(90deg,#dadada 0 3.5px,#f2f2f2 3.5px 4.5px);"></div>
<div style="left:1202.9px;top:371px;width:34.5px;height:1.1px;background:#cfcfcf;"></div>
<div style="left:1202.9px;top:386.3px;width:34.5px;height:1.1px;background-image:repeating-linear-gradient(90deg,#dadada 0 3.5px,#f2f2f2 3.5px 4.5px);"></div>
<div style="left:1202.9px;top:401.6px;width:34.5px;height:1.1px;background-image:repeating-linear-gradient(90deg,#dadada 0 3.5px,#f2f2f2 3.5px 4.5px);"></div>
<div style="left:1202.9px;top:416.9px;width:34.5px;height:1.1px;background-image:repeating-linear-gradient(90deg,#dadada 0 3.5px,#f2f2f2 3.5px 4.5px);"></div>
<div style="left:1202.9px;top:432.2px;width:34.5px;height:1.1px;background:#cfcfcf;"></div>
<div style="left:1202.9px;top:447.5px;width:34.5px;height:1.1px;background-image:repeating-linear-gradient(90deg,#dadada 0 3.5px,#f2f2f2 3.5px 4.5px);"></div>
<div style="left:1202.9px;top:462.8px;width:34.5px;height:1.1px;background-image:repeating-linear-gradient(90deg,#dadada 0 3.5px,#f2f2f2 3.5px 4.5px);"></div>
<div style="left:1202.9px;top:478.1px;width:34.5px;height:1.1px;background-image:repeating-linear-gradient(90deg,#dadada 0 3.5px,#f2f2f2 3.5px 4.5px);"></div>
<div style="left:1202.9px;top:493.4px;width:34.5px;height:1.1px;background:#cfcfcf;"></div>
<div style="left:1202.9px;top:508.7px;width:34.5px;height:1.1px;background-image:repeating-linear-gradient(90deg,#dadada 0 3.5px,#f2f2f2 3.5px 4.5px);"></div>
<div style="left:1202.9px;top:524px;width:34.5px;height:1.1px;background-image:repeating-linear-gradient(90deg,#dadada 0 3.5px,#f2f2f2 3.5px 4.5px);"></div>
<div style="left:1202.9px;top:539.3px;width:34.5px;height:1.1px;background-image:repeating-linear-gradient(90deg,#dadada 0 3.5px,#f2f2f2 3.5px 4.5px);"></div>
<div style="left:1202.9px;top:554.6px;width:34.5px;height:1.1px;background:#cfcfcf;"></div>
<div style="left:1202.9px;top:569.9px;width:34.5px;height:1.1px;background-image:repeating-linear-gradient(90deg,#dadada 0 3.5px,#f2f2f2 3.5px 4.5px);"></div>
<div style="left:1202.9px;top:585.2px;width:34.5px;height:1.1px;background-image:repeating-linear-gradient(90deg,#dadada 0 3.5px,#f2f2f2 3.5px 4.5px);"></div>
<div style="left:1202.9px;top:600.5px;width:34.5px;height:1.1px;background-image:repeating-linear-gradient(90deg,#dadada 0 3.5px,#f2f2f2 3.5px 4.5px);"></div>
<div style="left:1202.9px;top:615.8px;width:34.5px;height:1.1px;background:#cfcfcf;"></div>
<div style="left:1202.9px;top:631.1px;width:34.5px;height:1.1px;background-image:repeating-linear-gradient(90deg,#dadada 0 3.5px,#f2f2f2 3.5px 4.5px);"></div>
<div style="left:561.2px;top:124.8px;width:301.8px;height:519.2px;background:#98ff98;border:1.2px solid #111;border-bottom:0;overflow:hidden;"><div style="left:0;right:0;top:-0.2px;height:2px;background:#ff8a94;"></div><div style="left:0;right:0;top:138.5px;height:2px;background:#ff8a94;"></div><div style="left:0;right:0;top:153.5px;height:2px;background:#ff8a94;"></div><div style="left:0;right:0;top:242.7px;height:1.8px;background:#ff8a94;"></div><div style="left:0;right:0;top:275.8px;height:2.7px;background:#ff8a94;"></div><div style="left:0;right:0;top:335.6px;height:30.8px;background:#ff9494;border-top:1px solid #ff8090;border-bottom:1px solid #ff8090;"></div><div style="left:0;right:0;top:422.8px;height:19.3px;background:#ff9494;border-top:1px solid #ff8090;border-bottom:1px solid #ff8090;"></div><div style="left:0;right:0;top:443.5px;height:15.9px;background:#ff9494;border-top:1px solid #ff8090;border-bottom:1px solid #ff8090;"></div></div>
<div style="left:900.3px;top:127.1px;width:301.1px;height:516.9px;background:#98ff98;border:1.2px solid #111;border-bottom:0;overflow:hidden;"><div style="left:0;right:0;top:0px;height:5.5px;background:#ff9494;border-top:1px solid #ff8090;border-bottom:1px solid #ff8090;"></div><div style="left:0;right:0;top:136.8px;height:4.7px;background:#ff8a94;"></div><div style="left:0;right:0;top:152.2px;height:3.8px;background:#ff8a94;"></div><div style="left:0;right:0;top:241.5px;height:1.2px;background:#ff8a94;"></div><div style="left:0;right:0;top:273.7px;height:4px;background:#ff8a94;"></div><div style="left:0;right:0;top:425.4px;height:14.4px;background:#ff9494;border-top:1px solid #ff8090;border-bottom:1px solid #ff8090;"></div><div style="left:0;right:0;top:442.7px;height:17.2px;background:#ff9494;border-top:1px solid #ff8090;border-bottom:1px solid #ff8090;"></div></div>
<div style="left:503.4px;top:643.5px;width:748.6px;height:1px;background:#d0d0d0;"></div>
<div style="left:1238.4px;top:120px;width:13.1px;height:523.5px;background:#efefef;"></div>
<div style="left:1238.7px;top:297px;width:11.1px;height:176.3px;background:#c3c3c3;"></div>
<svg style="left:0;top:0;" width="1320" height="900"><path d="M1241.0,130.625 L1244.5,126.77499999999999 L1248.0,130.625 Z" fill="#111"/></svg>
<svg style="left:0;top:0;" width="1320" height="900"><path d="M1241.0,633.6750000000001 L1244.5,637.525 L1248.0,633.6750000000001 Z" fill="#111"/></svg>
</body></html>
